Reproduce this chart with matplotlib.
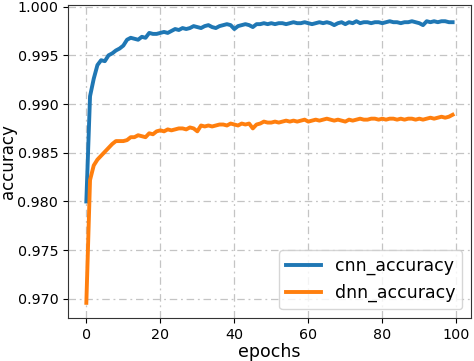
import matplotlib
matplotlib.use("Agg")
import matplotlib.pyplot as plt
import numpy as np

# accuracy per epoch
cnn_accuracy = [
    0.9800, 0.9908, 0.9926, 0.9940, 0.9945, 0.9944, 0.9950, 0.9952, 0.9955, 0.9957,
    0.9960, 0.9966, 0.9968, 0.9967, 0.9966, 0.9969, 0.9968, 0.9973, 0.9972, 0.9972,
    0.9973, 0.9974, 0.9973, 0.9975, 0.9977, 0.9976, 0.9978, 0.9977, 0.9978, 0.9980,
    0.9979, 0.9978, 0.9980, 0.9981, 0.9979, 0.9978, 0.9980, 0.9981, 0.9982, 0.9981,
    0.9977, 0.9980, 0.9981, 0.9982, 0.9981, 0.9979, 0.9982, 0.9982, 0.9983, 0.9982,
    0.9983, 0.9982, 0.9983, 0.9983, 0.9982, 0.9983, 0.9984, 0.9983, 0.9983, 0.9984,
    0.9983, 0.9982, 0.9983, 0.9984, 0.9983, 0.9984, 0.9983, 0.9981, 0.9983, 0.9984,
    0.9982, 0.9984, 0.9983, 0.9985, 0.9983, 0.9984, 0.9984, 0.9983, 0.9984, 0.9984,
    0.9983, 0.9984, 0.9985, 0.9984, 0.9984, 0.9983, 0.9984, 0.9984, 0.9985, 0.9984,
    0.9983, 0.9981, 0.9985, 0.9984, 0.9985, 0.9984, 0.9985, 0.9985, 0.9984, 0.9984,
]
dnn_accuracy = [
    0.9696, 0.9822, 0.9837, 0.9843, 0.9847, 0.9851, 0.9855, 0.9859, 0.9862, 0.9862,
    0.9862, 0.9863, 0.9866, 0.9866, 0.9868, 0.9867, 0.9866, 0.9870, 0.9869, 0.9872,
    0.9873, 0.9872, 0.9874, 0.9873, 0.9874, 0.9875, 0.9875, 0.9874, 0.9876, 0.9875,
    0.9872, 0.9878, 0.9877, 0.9878, 0.9877, 0.9878, 0.9879, 0.9879, 0.9878, 0.9880,
    0.9879, 0.9878, 0.9880, 0.9879, 0.9880, 0.9875, 0.9879, 0.9880, 0.9882, 0.9881,
    0.9881, 0.9882, 0.9881, 0.9882, 0.9883, 0.9882, 0.9883, 0.9882, 0.9883, 0.9884,
    0.9882, 0.9883, 0.9884, 0.9883, 0.9884, 0.9885, 0.9884, 0.9883, 0.9884, 0.9883,
    0.9882, 0.9884, 0.9883, 0.9884, 0.9885, 0.9884, 0.9884, 0.9885, 0.9885, 0.9884,
    0.9885, 0.9884, 0.9885, 0.9885, 0.9884, 0.9885, 0.9884, 0.9885, 0.9885, 0.9884,
    0.9885, 0.9884, 0.9885, 0.9886, 0.9885, 0.9886, 0.9887, 0.9886, 0.9887, 0.9889,
]
epochs = np.arange(len(cnn_accuracy))

fig = plt.figure(figsize=(4.74, 3.61), dpi=100)
ax = fig.add_axes([0.1435, 0.119, 0.85, 0.867])

ax.plot(epochs, cnn_accuracy, color='#1f77b4', linewidth=2.8, label='cnn_accuracy')
ax.plot(epochs, dnn_accuracy, color='#ff7f0e', linewidth=2.8, label='dnn_accuracy')

ax.grid(True, linestyle=(0, (6, 3, 1.5, 3)), color='#c4c4c4', linewidth=0.9)
ax.set_xlabel('epochs', fontsize=12.5, labelpad=1)
ax.set_ylabel('accuracy', fontsize=12, labelpad=0)
ax.tick_params(labelsize=10.3)
for s in ax.spines.values():
    s.set_color('#333333')
ax.set_yticks([0.970, 0.975, 0.980, 0.985, 0.990, 0.995, 1.000])
ax.set_xticks([0, 20, 40, 60, 80, 100])
ax.set_ylim(0.96804, 1.00016)

leg = ax.legend(loc='lower right', fontsize=12.5)
for line in leg.get_lines():
    line.set_linewidth(2.8)

plt.savefig('out.png', dpi=100)
